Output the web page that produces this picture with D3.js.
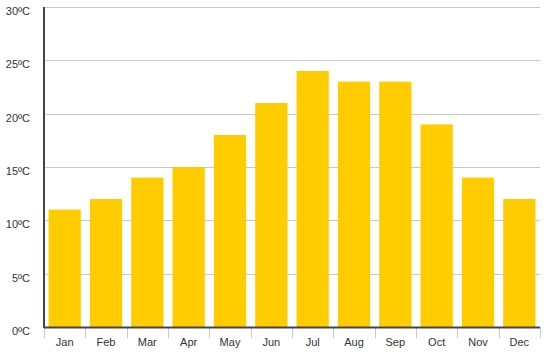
<!DOCTYPE html>
<html>
<head>
<meta charset="utf-8">
<script src="https://cdn.jsdelivr.net/npm/d3@7"></script>
<style>
  body { margin: 0; background: #fff; }
  text { font-family: "Liberation Sans", Arial, sans-serif; font-size: 11px; fill: #333; }
</style>
</head>
<body>
<div id="chart"></div>
<script>
var months = ["Jan", "Feb", "Mar", "Apr", "May", "Jun", "Jul", "Aug", "Sep", "Oct", "Nov", "Dec"];
var temps = [11, 12, 14, 15, 18, 21, 24, 23, 23, 19, 14, 12];
var yTicks = [0, 5, 10, 15, 20, 25, 30];

var width = 550, height = 356;
var margin = { top: 7, right: 10, bottom: 29, left: 44 };

var svg = d3.select("#chart").append("svg")
  .attr("width", width).attr("height", height);

var x = d3.scaleBand().domain(months)
  .range([margin.left, width - margin.right])
  .paddingInner(0.22).paddingOuter(0.11);

var y = d3.scaleLinear().domain([0, 30])
  .range([height - margin.bottom, margin.top]);

// gridlines
svg.append("g").selectAll("line").data(yTicks).enter().append("line")
  .attr("x1", margin.left).attr("x2", width - margin.right)
  .attr("y1", function (d) { return Math.round(y(d)) + 0.5; })
  .attr("y2", function (d) { return Math.round(y(d)) + 0.5; })
  .attr("stroke", "#c8c8c8").attr("stroke-width", 1);

// y labels
svg.append("g").selectAll("text").data(yTicks).enter().append("text")
  .attr("x", 30).attr("y", function (d) { return y(d) + 4; })
  .attr("dy", "0.35em").attr("text-anchor", "end")
  .text(function (d) { return d + "ºC"; });

// bars
svg.append("g").selectAll("rect").data(temps).enter().append("rect")
  .attr("x", function (d, i) { return x(months[i]); })
  .attr("width", x.bandwidth())
  .attr("y", function (d) { return y(d); })
  .attr("height", function (d) { return y(0) - y(d); })
  .attr("fill", "#ffcc00");

// category ticks
var step = x.step();
var bounds = d3.range(months.length + 1).map(function (i) { return margin.left + i * (width - margin.left - margin.right) / months.length; });
svg.append("g").selectAll("line").data(bounds).enter().append("line")
  .attr("x1", function (d) { return Math.round(d) + 0.5; })
  .attr("x2", function (d) { return Math.round(d) + 0.5; })
  .attr("y1", y(0)).attr("y2", y(0) + 11)
  .attr("stroke", "#c0cad8");

// x axis and y axis lines
svg.append("line")
  .attr("x1", margin.left).attr("x2", width - margin.right)
  .attr("y1", y(0) + 0.5).attr("y2", y(0) + 0.5)
  .attr("stroke", "#444").attr("stroke-width", 2);
svg.append("line")
  .attr("x1", margin.left).attr("x2", margin.left)
  .attr("y1", margin.top).attr("y2", y(0) + 1)
  .attr("stroke", "#444").attr("stroke-width", 2);

// month labels
svg.append("g").selectAll("text").data(months).enter().append("text")
  .attr("x", function (d) { return x(d) + x.bandwidth() / 2; })
  .attr("y", y(0) + 15).attr("dy", "0.35em")
  .attr("text-anchor", "middle")
  .text(function (d) { return d; });
</script>
</body>
</html>
